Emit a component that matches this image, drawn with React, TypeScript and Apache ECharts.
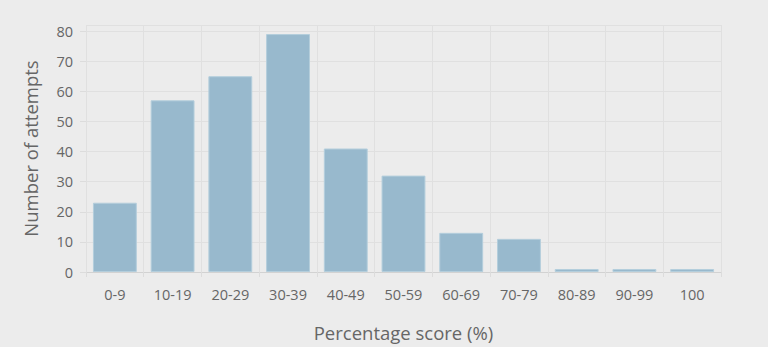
import React, { useEffect, useRef } from "react";
import * as echarts from "echarts";

const categories = ["0-9", "10-19", "20-29", "30-39", "40-49", "50-59", "60-69", "70-79", "80-89", "90-99", "100"];
const attempts = [23, 57, 65, 79, 41, 32, 13, 11, 1, 1, 1];
const xTitle = "Percentage score (%)";
const yTitle = "Number of attempts";

export default function App() {
  const ref = useRef<HTMLDivElement>(null);
  useEffect(() => {
    if (!ref.current) return;
    document.body.style.margin = "0";
    document.body.style.background = "#ececec";
    const chart = echarts.init(ref.current, null, { renderer: "svg" });
    const font = "'Open Sans', 'Noto Sans', sans-serif";
    chart.setOption({
      animation: false,
      backgroundColor: "#ececec",
      textStyle: { fontFamily: font },
      grid: { left: 86, right: 47, top: 25, bottom: 74, containLabel: false },
      xAxis: {
        type: "category",
        data: categories,
        name: xTitle,
        nameLocation: "middle",
        nameGap: 51,
        nameTextStyle: { fontSize: 18.5, color: "#666666", fontFamily: font },
        axisLine: { show: true, lineStyle: { color: "#d2d2d2", width: 1 } },
        axisTick: { show: true, length: 5, alignWithLabel: false, lineStyle: { color: "#dcdcdc" } },
        axisLabel: { fontSize: 14.5, color: "#666666", margin: 15, fontFamily: font },
        splitLine: { show: true, lineStyle: { color: "#e0e0e0", width: 1 } },
      },
      yAxis: {
        type: "value",
        min: 0,
        max: 82,
        interval: 10,
        name: yTitle,
        nameLocation: "middle",
        nameGap: 46,
        nameTextStyle: { fontSize: 18.5, color: "#666666", fontFamily: font },
        axisLine: { show: false },
        axisTick: { show: true, length: 6, lineStyle: { color: "#dcdcdc" } },
        axisLabel: { fontSize: 14.5, color: "#666666", margin: 13, fontFamily: font },
        splitLine: { show: true, lineStyle: { color: "#e0e0e0", width: 1 } },
      },
      series: [
        {
          type: "bar",
          data: attempts,
          barCategoryGap: "24%",
          itemStyle: { color: "#98b9cd", borderColor: "#b4cedc", borderWidth: 1 },
        },
      ],
    });
    return () => chart.dispose();
  }, []);
  return <div ref={ref} style={{ width: 768, height: 347 }} />;
}
